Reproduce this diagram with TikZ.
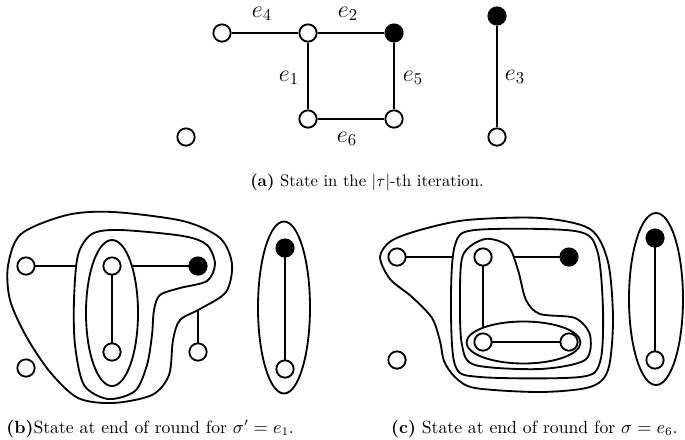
\documentclass[tikz,border=0pt]{standalone}
\usepackage{amsmath}
\usetikzlibrary{positioning}

\begin{document}
\begin{tikzpicture}[x=0.6pt,y=-0.6pt,line width=1.1pt,
  vtx/.style={circle,draw,fill=white,minimum size=10.4pt,inner sep=0pt},
  blk/.style={vtx,fill=black},
  blob/.style={draw,fill=white},
  elbl/.style={font=\Large,inner sep=0.5pt},
  capt/.style={font=\fontsize{10.6}{12}\selectfont}]
\useasboundingbox (0,0) rectangle (685,439);

%% (a) state in the |tau|-th iteration
\node[vtx] (a4) at (222,33) {};
\node[vtx] (a1) at (308,33) {};
\node[blk] (a2) at (394,33) {};
\node[vtx] (a6) at (308,119) {};
\node[vtx] (a5) at (394,119) {};
\node[vtx] (a0) at (186,137) {};
\node[blk] (a3) at (497,16) {};
\node[vtx] (a7) at (497,137) {};
\draw (a4) -- (a1);
\draw (a1) -- (a2);
\draw (a1) -- (a6);
\draw (a2) -- (a5);
\draw (a6) -- (a5);
\draw (a3) -- (a7);
\node[elbl] (l4) at (262,14) {$e_4$};
\node[elbl] (l2) at (348,14) {$e_2$};
\node[elbl] (l1) at (289,78) {$e_1$};
\node[elbl] (l5) at (413,78) {$e_5$};
\node[elbl] (l6) at (347,139) {$e_6$};
\node[elbl] (l3) at (515,77) {$e_3$};
\node[anchor=base] (capa) at (367,186) {\textbf{(a)} State in the $|\tau|$-th iteration.};

%% (b) round for sigma' = e1
\coordinate (b4) at (26,266);
\coordinate (b1) at (112,266);
\coordinate (b2) at (198,266);
\coordinate (b6) at (112,352);
\coordinate (b5) at (198,352);
\coordinate (b0) at (26,368);
\coordinate (b3) at (285,248);
\coordinate (b7) at (285,369);
\draw (b2) -- (b5);
\draw[blob] plot[smooth cycle] coordinates {(8,266) (21,234) (67,215) (113,212)
  (183,221) (220,238) (232,264) (226,292) (200,309) (180,320) (173,340)
  (169,375) (152,395) (113,403) (78,398) (50,372) (26,336) (10,300)};
\draw (b4) -- (b1);
\draw[blob] plot[smooth cycle] coordinates {(74,300) (78,255) (92,234) (120,230)
  (183,236) (207,245) (215,264) (207,281) (180,288) (160,295) (154,310)
  (152,335) (147,365) (135,391) (108,399) (84,385) (75,345)};
\draw (b1) -- (b2);
\draw[blob] (112,313) ellipse [x radius=26, y radius=73];
\draw (b1) -- (b6);
\draw[blob] (284,307.5) ellipse [x radius=26, y radius=86];
\draw (b3) -- (b7);
\foreach \v in {b4,b1,b6,b5,b0,b7}
  \node[vtx] (n\v) at (\v) {};
\foreach \v in {b2,b3}
  \node[blk] (n\v) at (\v) {};
\node[capt,anchor=base west] (capb) at (0,433) {\textbf{(b)}State at end of round for $\sigma' = e_1$.};

%% (c) round for sigma = e6
\coordinate (c4) at (397,257);
\coordinate (c1) at (483,257);
\coordinate (c2) at (569,257);
\coordinate (c6) at (483,342);
\coordinate (c5) at (569,342);
\coordinate (c0) at (397,360);
\coordinate (c3) at (655,238);
\coordinate (c7) at (655,360);
\draw[blob] plot[smooth cycle] coordinates {(380,257) (391,241) (420,230) (467,220)
  (540,218) (590,229) (608,262) (613,320) (608,370) (590,387) (540,392) (475,388)
  (455,377) (444,361) (440,341) (432,318) (412,297) (390,279)};
\draw (c4) -- (c1);
\draw[blob] plot[smooth cycle] coordinates {(451,300) (455,245) (475,230) (575,231)
  (597,250) (603,310) (600,362) (580,377) (480,377) (455,365)};
\draw (c1) -- (c2);
\draw[blob] plot[smooth cycle] coordinates {(460,300) (463,255) (485,239) (508,246)
  (518,270) (526,300) (540,314) (575,318) (590,335) (585,360) (540,369) (475,365)
  (462,345)};
\draw (c1) -- (c6);
\draw[blob] (523.5,342.5) ellipse [x radius=57, y radius=21];
\draw (c6) -- (c5);
\draw[blob] (656,299) ellipse [x radius=27, y radius=86];
\draw (c3) -- (c7);
\foreach \v in {c4,c1,c6,c5,c0,c7}
  \node[vtx] (n\v) at (\v) {};
\foreach \v in {c2,c3}
  \node[blk] (n\v) at (\v) {};
\node[capt,anchor=base east] (capc) at (684,433) {\textbf{(c)} State at end of round for $\sigma = e_6$.};
\end{tikzpicture}
\end{document}
